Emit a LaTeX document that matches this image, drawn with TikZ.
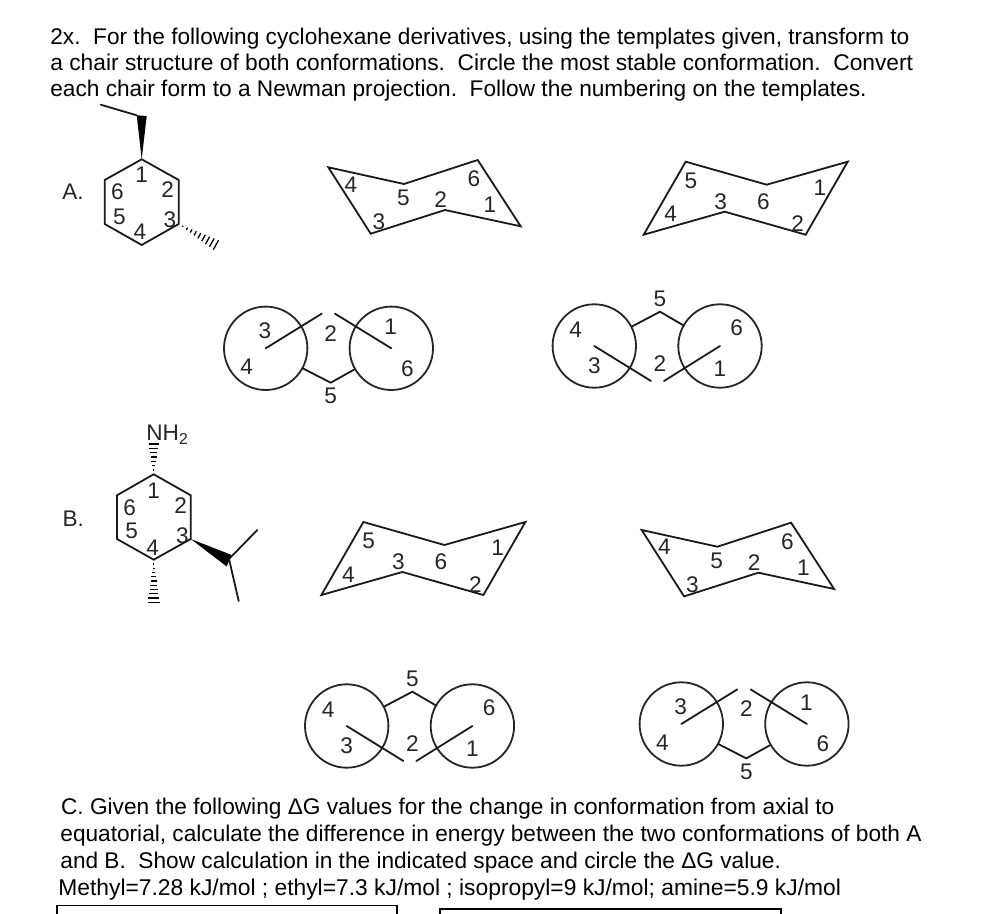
\documentclass[tikz,border=0pt]{standalone}
\usepackage{fontspec}
\setmainfont{Liberation Sans}
\usetikzlibrary{calc}
\tikzset{
  bond/.style={draw=black!90,line width=0.9pt,line join=miter,line cap=round},
  hashline/.style={draw=black,line width=0.65pt},
  wedgebond/.style={fill=black,draw=none},
  ringcircle/.style={draw=black!85,line width=0.9pt},
  num/.style={inner sep=0pt,font=\fontsize{11.3}{13}\selectfont,text=black!85},
  para/.style={inner sep=0pt,anchor=base west,font=\fontsize{11.33}{13}\selectfont,text=black},
  answerbox/.style={draw=black,line width=0.7pt}
}
% hashed bond: from, to, max half width (pt), number of strokes
\newcommand{\hashbond}[4]{%
  \foreach \i in {1,...,#4}{%
    \pgfmathsetmacro\tt{\i/(#4+0.02)}%
    \pgfmathsetmacro\ww{#3*\i/#4}%
    \draw[hashline] ($(#1)!\tt!(#2)!\ww pt!90:(#2)$) -- ($(#1)!\tt!(#2)!\ww pt!-90:(#2)$);
  }%
}
% chair with the "4 up left" outline
\newcommand{\chairup}[2]{%
  \begin{scope}[shift={(#1,#2)}]
    \coordinate (u1) at (328.3,167.3); \coordinate (u2) at (404,184);
    \coordinate (u3) at (477.7,160);   \coordinate (u4) at (520.7,226.3);
    \coordinate (u5) at (445,210);     \coordinate (u6) at (370.7,233.7);
    \draw[bond] (u1) -- (u2) -- (u3) -- (u4) -- (u5) -- (u6) -- cycle;
    \node[num] (n4) at (351,184.3) {4};
    \node[num] (n5) at (403.3,197.7) {5};
    \node[num] (n2) at (440.7,200) {2};
    \node[num] (n6) at (474,179) {6};
    \node[num] (n1) at (490,205) {1};
    \node[num] (n3) at (379,221.7) {3};
  \end{scope}}
% chair with the "5 up left" outline
\newcommand{\chairdown}[2]{%
  \begin{scope}[shift={(#1,#2)}]
    \coordinate (d1) at (685.7,161.7); \coordinate (d2) at (766.7,184.7);
    \coordinate (d3) at (847.7,161.7); \coordinate (d4) at (805.7,234.7);
    \coordinate (d5) at (724.7,211.7); \coordinate (d6) at (643.7,234.7);
    \draw[bond] (d1) -- (d2) -- (d3) -- (d4) -- (d5) -- (d6) -- cycle;
    \node[num] (m5) at (691,181) {5};
    \node[num] (m3) at (720.7,201.7) {3};
    \node[num] (m6) at (763.3,201.7) {6};
    \node[num] (m1) at (820,187.7) {1};
    \node[num] (m2) at (797.7,224) {2};
    \node[num] (m4) at (670.7,214) {4};
  \end{scope}}
% Newman with CH2 5 below
\newcommand{\newmandown}[2]{%
  \begin{scope}[shift={(#1,#2)}]
    \coordinate (lc) at (265.7,348.3); \coordinate (rc) at (391.3,348.3);
    \coordinate (la) at (321.7,313.7); \coordinate (ra) at (335,313.7);
    \coordinate (b1) at (302.7,368.3); \coordinate (b2) at (330.7,382.7); \coordinate (b3) at (354,369.7);
    \draw[ringcircle] (lc) circle[radius=20.85pt];
    \draw[ringcircle] (rc) circle[radius=20.85pt];
    \draw[bond] (lc) -- (la);
    \draw[bond] (rc) -- (ra);
    \draw[bond] (b1) -- (b2) -- (b3);
    \node[num] (p3) at (265,331) {3};
    \node[num] (p4) at (246.7,366.7) {4};
    \node[num] (p2) at (330.7,333.3) {2};
    \node[num] (p1) at (390.7,326.7) {1};
    \node[num] (p6) at (407.3,368.3) {6};
    \node[num] (p5) at (330.7,396) {5};
  \end{scope}}
% Newman with CH2 5 above
\newcommand{\newmanup}[2]{%
  \begin{scope}[shift={(#1,#2)}]
    \coordinate (lc) at (594.3,346); \coordinate (rc) at (720,346);
    \coordinate (la) at (651,381);   \coordinate (ra) at (664,381);
    \coordinate (b1) at (632.3,326.3); \coordinate (b2) at (660,311.7); \coordinate (b3) at (684,325.7);
    \draw[ringcircle] (lc) circle[radius=20.85pt];
    \draw[ringcircle] (rc) circle[radius=20.85pt];
    \draw[bond] (lc) -- (la);
    \draw[bond] (rc) -- (ra);
    \draw[bond] (b1) -- (b2) -- (b3);
    \node[num] (q4) at (575.7,330) {4};
    \node[num] (q3) at (594.3,365.7) {3};
    \node[num] (q2) at (660,363.3) {2};
    \node[num] (q1) at (720,368.3) {1};
    \node[num] (q6) at (736.7,327.7) {6};
    \node[num] (q5) at (660,299.3) {5};
  \end{scope}}
\begin{document}
\begin{tikzpicture}[x=0.5pt,y=-0.5pt]
\useasboundingbox (0,0) rectangle (992,914);
\clip (0,0) rectangle (992,914);
\fill[white] (0,0) rectangle (992,914);

% question text
\node[para] (t1) at (50,45) {2x.\ \ For the following cyclohexane derivatives, using the templates given, transform to};
\node[para,font=\fontsize{11.38}{13}\selectfont] (t2) at (50,71) {a chair structure of both conformations.\ \ Circle the most stable conformation.\ \ Convert};
\node[para] (t3) at (50,97) {each chair form to a Newman projection.\ \ Follow the numbering on the templates.};

% A template
\coordinate (a1) at (141.7,159.3); \coordinate (a2) at (178.7,180);
\coordinate (a3) at (178.7,224);   \coordinate (a4) at (141.7,245);
\coordinate (a5) at (104.7,224);   \coordinate (a6) at (104.7,180);
\draw[bond] (a1) -- (a2) -- (a3) -- (a4) -- (a5) -- (a6) -- cycle;
\coordinate (aw1) at (136.7,115.3); \coordinate (aw2) at (146.7,116);
\coordinate (aeth) at (100.7,104.7);
\fill[wedgebond] (a1) -- (aw1) -- (aw2) -- cycle;
\draw[bond] (aw1) -- (aeth);
\coordinate (ame) at (216,245);
\hashbond{a3}{ame}{2.7}{9}
\node[num] (alab) at (73,192) {A.};
\node[num] (a1n) at (141.7,175) {1};
\node[num] (a2n) at (167.7,190) {2};
\node[num] (a3n) at (170,220) {3};
\node[num] (a4n) at (140,232) {4};
\node[num] (a5n) at (119.3,216.7) {5};
\node[num] (a6n) at (117.3,192) {6};

\chairup{0}{0}
\chairdown{0}{0}
\newmandown{0}{0}
\newmanup{0}{0}

% B template
\coordinate (b1x) at (153.7,474.3); \coordinate (b2x) at (190.7,495.3);
\coordinate (b3x) at (190.7,539);   \coordinate (b4x) at (153.7,559.7);
\coordinate (b5x) at (117,539);     \coordinate (b6x) at (117,495.3);
\draw[bond] (b1x) -- (b2x) -- (b3x) -- (b4x) -- (b5x) -- (b6x) -- cycle;
\node[num,anchor=base west] (nh2) at (146,440.5) {NH\textsubscript{2}};
\coordinate (nhend) at (153.7,444);
\hashbond{b1x}{nhend}{2.6}{7}
\coordinate (bme) at (153.7,602.3);
\hashbond{b4x}{bme}{2.9}{10}
\coordinate (bw1) at (231.7,555); \coordinate (bw2) at (226.7,566.5);
\fill[wedgebond] (b3x) -- (bw1) -- (bw2) -- cycle;
\coordinate (bbr) at (229,559);
\coordinate (bi1) at (257.3,530); \coordinate (bi2) at (238.7,601);
\draw[bond] (bi1) -- (bbr) -- (bi2);
\node[num] (blab) at (73.3,518.3) {B.};
\node[num] (b1n) at (153.7,491) {1};
\node[num] (b2n) at (180.7,505.7) {2};
\node[num] (b3n) at (182.3,535.7) {3};
\node[num] (b4n) at (152.7,547.7) {4};
\node[num] (b5n) at (131.7,531) {5};
\node[num] (b6n) at (129.7,507.7) {6};

\chairdown{-322.3}{360.3}
\chairup{313.4}{362.7}
\newmanup{-247.6}{380}
\newmandown{415.6}{375.7}

% part C
\node[para] (c1) at (60.7,814) {C. Given the following ΔG values for the change in conformation from axial to};
\node[para] (c2) at (60,841.5) {equatorial, calculate the difference in energy between the two conformations of both A};
\node[para] (c3) at (60,868.5) {and B.\ \ Show calculation in the indicated space and circle the ΔG value.};
\node[para,font=\fontsize{11.41}{13}\selectfont] (c4) at (58,895) {Methyl=7.28 kJ/mol ; ethyl=7.3 kJ/mol ; isopropyl=9 kJ/mol; amine=5.9 kJ/mol};

\draw[answerbox] (57,925) -- (57,905.5) -- (397,905.5) -- (397,925);
\draw[answerbox] (440,925) -- (440,909) -- (781,909) -- (781,925);
\end{tikzpicture}
\end{document}
